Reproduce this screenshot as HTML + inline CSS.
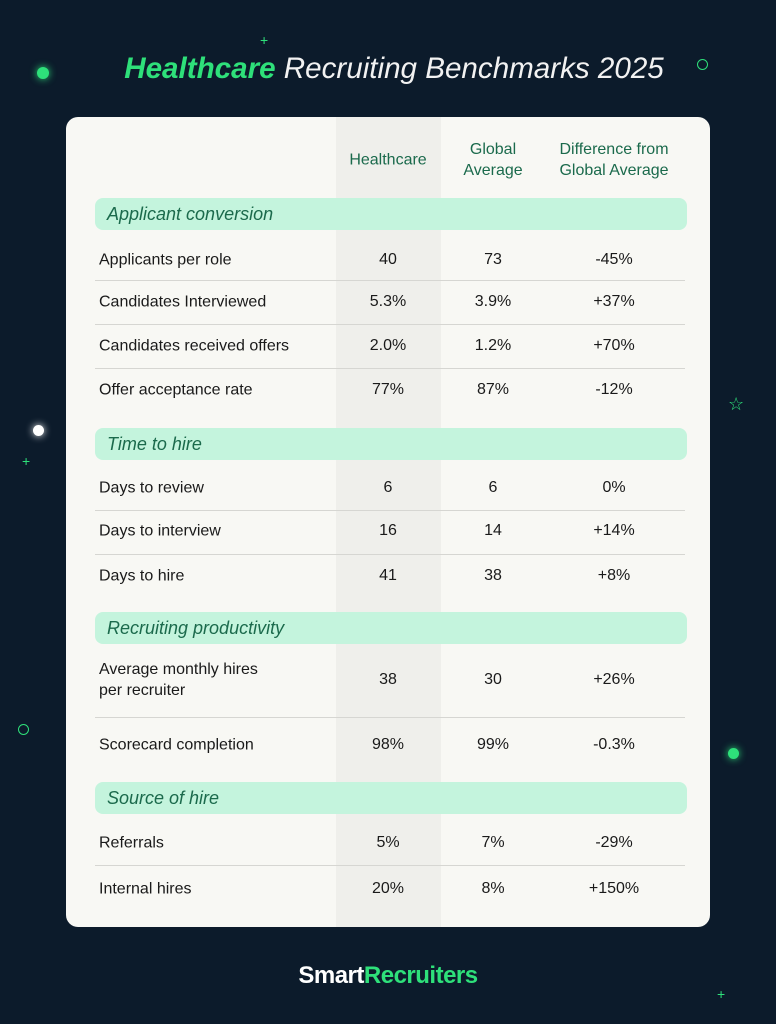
<!DOCTYPE html>
<html><head><style>
body{margin:0;width:776px;height:1024px;background:#0c1b2b;position:relative;overflow:hidden;font-family:"Liberation Sans",sans-serif}
.a{position:absolute}
.card{left:66px;top:117px;width:644px;height:810px;background:#f8f8f4;border-radius:12px}
.shade{left:336px;top:117px;width:105px;height:810px;background:#efefeb}
.bar{left:95px;width:592px;height:32px;background:#c4f4dd;border-radius:8px;color:#1b6a4c;font-style:italic;font-size:18px;line-height:32px;padding-left:12px;box-sizing:border-box}
.line{left:95px;width:590px;height:1px;background:#d6d6d2}
.t{font-size:16px;color:#1a1a1a;transform:translateY(-50%)}
.c{transform:translate(-50%,-50%);text-align:center}
.h{color:#1b6a4c;font-size:16px;line-height:21px}
.dot{border-radius:50%}
</style></head><body>
<div class="a" style="left:6px;width:776px;top:52px;text-align:center;font-size:29.6px;font-style:italic;color:#f2f2f2">
<b style="color:#2ee07a">Healthcare</b> Recruiting Benchmarks 2025</div>
<div class="a card"></div><div class="a shade"></div>
<div class="a h c" style="left:388px;top:160px">Healthcare</div>
<div class="a h c" style="left:493px;top:160px">Global<br>Average</div>
<div class="a h c" style="left:614px;top:160px;white-space:nowrap">Difference from<br>Global Average</div>

<div class="a bar" style="top:198px">Applicant conversion</div>
<div class="a bar" style="top:428px">Time to hire</div>
<div class="a bar" style="top:612px">Recruiting productivity</div>
<div class="a bar" style="top:782px">Source of hire</div>

<div class="a line" style="top:280px"></div><div class="a line" style="top:324px"></div><div class="a line" style="top:368px"></div>
<div class="a line" style="top:510px"></div><div class="a line" style="top:554px"></div>
<div class="a line" style="top:717px"></div><div class="a line" style="top:865px"></div>

<div id="rows"></div>
<script>
const r=[[260,"Applicants per role","40","73","-45%"],[302,"Candidates Interviewed","5.3%","3.9%","+37%"],[346,"Candidates received offers","2.0%","1.2%","+70%"],[390,"Offer acceptance rate","77%","87%","-12%"],
[488,"Days to review","6","6","0%"],[531,"Days to interview","16","14","+14%"],[576,"Days to hire","41","38","+8%"],
[680,"Average monthly hires<br>per recruiter","38","30","+26%"],[745,"Scorecard completion","98%","99%","-0.3%"],
[843,"Referrals","5%","7%","-29%"],[889,"Internal hires","20%","8%","+150%"]];
let h="";for(const [y,l,a,b,c] of r){h+=`<div class="a t" style="left:99px;top:${y}px;line-height:21px">${l}</div><div class="a t c" style="left:388px;top:${y}px">${a}</div><div class="a t c" style="left:493px;top:${y}px">${b}</div><div class="a t c" style="left:614px;top:${y}px">${c}</div>`}
document.getElementById("rows").innerHTML=h;
</script>
<div class="a" style="left:0;width:776px;top:962px;text-align:center;font-size:24px;font-weight:bold;color:#fff;letter-spacing:-0.5px">Smart<span style="color:#2ee07a">Recruiters</span></div>
<div class="a dot" style="left:37px;top:67px;width:12px;height:12px;background:#2ee07a;box-shadow:0 0 8px #2ee07a"></div>
<div class="a dot" style="left:33px;top:425px;width:11px;height:11px;background:#fff;box-shadow:0 0 8px #fff"></div>
<div class="a dot" style="left:728px;top:748px;width:11px;height:11px;background:#2ee07a;box-shadow:0 0 8px #2ee07a"></div>
<div class="a dot" style="left:697px;top:59px;width:9px;height:9px;border:1.5px solid #2ee07a"></div>
<div class="a dot" style="left:18px;top:724px;width:9px;height:9px;border:1.5px solid #2ee07a"></div>
<div class="a" style="left:260px;top:32px;color:#2ee07a;font-size:14px">+</div>
<div class="a" style="left:22px;top:453px;color:#2ee07a;font-size:14px">+</div>
<div class="a" style="left:717px;top:986px;color:#2ee07a;font-size:14px">+</div>
<div class="a" style="left:728px;top:394px;color:#2ee07a;font-size:18px">☆</div>
</body></html>
